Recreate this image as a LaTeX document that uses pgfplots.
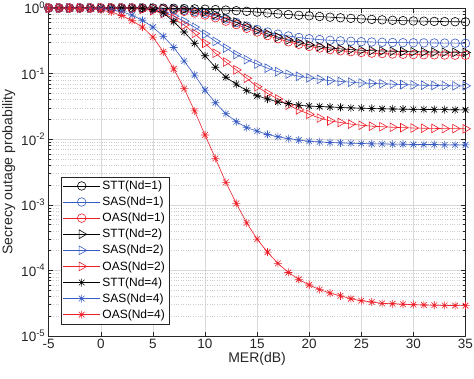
\documentclass[border=0pt]{standalone}
\usepackage{fontspec}
\setmainfont{Liberation Sans}
\usepackage{pgfplots}
\usepackage{pgfplotstable}
\pgfplotsset{compat=1.18}
\definecolor{mblue}{rgb}{0.22,0.36,0.76}
\definecolor{mred}{rgb}{0.93,0.12,0.16}
\definecolor{gridc}{rgb}{0.85,0.85,0.85}
\definecolor{axc}{rgb}{0.15,0.15,0.15}

\pgfdeclareplotmark{mstar}{%
  \pgfpathmoveto{\pgfqpoint{-\pgfplotmarksize}{0pt}}\pgfpathlineto{\pgfqpoint{\pgfplotmarksize}{0pt}}%
  \pgfpathmoveto{\pgfqpoint{0pt}{-\pgfplotmarksize}}\pgfpathlineto{\pgfqpoint{0pt}{\pgfplotmarksize}}%
  \pgfpathmoveto{\pgfqpoint{-0.707\pgfplotmarksize}{-0.707\pgfplotmarksize}}\pgfpathlineto{\pgfqpoint{0.707\pgfplotmarksize}{0.707\pgfplotmarksize}}%
  \pgfpathmoveto{\pgfqpoint{-0.707\pgfplotmarksize}{0.707\pgfplotmarksize}}\pgfpathlineto{\pgfqpoint{0.707\pgfplotmarksize}{-0.707\pgfplotmarksize}}%
  \pgfusepathqstroke}

\pgfplotstableread{
x   stta  sasa  oasa  sttb  sasb  oasb  sttc  sasc  oasc
-5  1     1     1     1     1     1     1     0.999 0.998
-4  1     1     1     1     1     1     1     0.998 0.996
-3  1     1     1     1     1     1     1     0.996 0.99
-2  1     1     1     1     1     1     1     0.99  0.98
-1  1     1     1     1     1     1     1     0.98  0.96
0   1     1     1     1     1     1     1     0.965 0.93
1   1     1     1     1     1     1     1     0.94  0.87
2   1     1     1     1     0.995 0.995 1     0.88  0.77
3   1     1     1     1     0.99  0.985 1     0.78  0.64
4   1     1     0.99  1     0.97  0.96  0.99  0.65  0.51
5   1     0.99  0.98  0.995 0.93  0.91  0.95  0.51  0.36
6   0.995 0.97  0.96  0.99  0.85  0.82  0.84  0.37  0.215
7   0.99  0.95  0.93  0.975 0.75  0.69  0.62  0.25  0.118
8   0.98  0.92  0.89  0.955 0.63  0.55  0.43  0.155 0.059
9   0.97  0.88  0.84  0.92  0.51  0.41  0.29  0.095 0.027
10  0.96  0.83  0.78  0.87  0.40  0.29  0.187 0.056 0.0116
11  0.945 0.76  0.71  0.79  0.31  0.205 0.125 0.036 0.0051
12  0.93  0.68  0.63  0.70  0.245 0.15  0.088 0.0245 0.0022
13  0.91  0.60  0.56  0.61  0.195 0.114 0.069 0.0185 0.00105
14  0.89  0.53  0.49  0.53  0.163 0.085 0.055 0.015 0.00053
15  0.865 0.47  0.43  0.46  0.14  0.063 0.046 0.0133 0.00030
16  0.84  0.43  0.38  0.405 0.121 0.05  0.041 0.0118 0.00019
17  0.815 0.40  0.34  0.36  0.107 0.041 0.037 0.0109 0.000128
18  0.795 0.375 0.305 0.325 0.098 0.033 0.035 0.0102 0.000093
19  0.775 0.355 0.28  0.297 0.091 0.028 0.033 0.0097 0.000073
20  0.76  0.34  0.26  0.275 0.086 0.024 0.032 0.0093 0.000060
21  0.742 0.33  0.245 0.258 0.082 0.021 0.0315 0.0091 0.000051
22  0.725 0.322 0.232 0.246 0.078 0.019 0.031 0.0089 0.000045
23  0.71  0.316 0.223 0.238 0.076 0.018 0.0305 0.0088 0.000041
24  0.695 0.311 0.216 0.232 0.074 0.017 0.030 0.0087 0.000037
25  0.682 0.307 0.21  0.227 0.072 0.0163 0.0297 0.0086 0.0000345
26  0.67  0.303 0.205 0.224 0.071 0.0158 0.0294 0.0085 0.000033
27  0.66  0.300 0.202 0.221 0.070 0.0155 0.0291 0.0085 0.0000315
28  0.65  0.298 0.199 0.219 0.069 0.0152 0.0289 0.0084 0.000031
29  0.642 0.296 0.197 0.217 0.068 0.015 0.0287 0.0084 0.0000305
30  0.635 0.295 0.195 0.215 0.067 0.0148 0.0285 0.0083 0.000030
31  0.63  0.294 0.194 0.214 0.0665 0.0147 0.0284 0.0083 0.0000297
32  0.625 0.293 0.193 0.213 0.066 0.0146 0.0283 0.0083 0.0000295
33  0.621 0.292 0.192 0.212 0.0655 0.0145 0.0282 0.0082 0.0000293
34  0.618 0.291 0.191 0.211 0.065 0.0145 0.0281 0.0082 0.0000291
35  0.615 0.29  0.19  0.21  0.065 0.0144 0.028 0.0082 0.000029
}\datatab

\begin{document}
\begin{tikzpicture}
\begin{axis}[
  at={(48.7pt,42pt)}, anchor=south west,
  scale only axis, width=416.8pt, height=328pt,
  ymode=log, xmin=-5, xmax=35, ymin=1e-5, ymax=1,
  xtick={-5,0,5,10,15,20,25,30,35},
  xticklabels={-5,0,5,10,15,20,25,30,35},
  ytick={1e-5,1e-4,1e-3,1e-2,1e-1,1},
  yticklabels={10\textsuperscript{-5},10\textsuperscript{-4},10\textsuperscript{-3},10\textsuperscript{-2},10\textsuperscript{-1},10\textsuperscript{0}},
  minor ytick={2e-5,3e-5,4e-5,5e-5,6e-5,7e-5,8e-5,9e-5,
               2e-4,3e-4,4e-4,5e-4,6e-4,7e-4,8e-4,9e-4,
               2e-3,3e-3,4e-3,5e-3,6e-3,7e-3,8e-3,9e-3,
               2e-2,3e-2,4e-2,5e-2,6e-2,7e-2,8e-2,9e-2,
               0.2,0.3,0.4,0.5,0.6,0.7,0.8,0.9},
  minor x tick num=0,
  grid=both,
  major grid style={gridc, line width=0.5pt},
  minor grid style={gray!40, dotted, line width=0.5pt},
  tick align=inside,
  major tick length=4.5pt, minor tick length=2.5pt,
  tick style={axc, line width=0.5pt},
  axis line style={axc, line width=0.6pt},
  ticklabel style={font=\fontsize{13.5}{15}\selectfont, text=axc},
  label style={font=\fontsize{14}{16}\selectfont, text=axc},
  xlabel={MER(dB)}, ylabel={Secrecy outage probability},
  xlabel style={yshift=4pt},
  ylabel style={yshift=-1pt},
  clip=false,
  every axis plot/.append style={line width=0.6pt},
  legend style={at={(0.0288,0.0366)}, anchor=south west,
    font=\fontsize{12}{14}\selectfont, draw=axc, fill=white,
    inner sep=2pt, row sep=1.9pt, cells={anchor=west}},
  legend image code/.code={\draw[mark repeat=2,mark phase=2] plot coordinates {(0cm,0cm) (0.65cm,0cm) (1.3cm,0cm)};},
]
\addplot[black, mark=o, mark size=4.3pt] table[x=x,y=stta] {\datatab};
\addlegendentry{STT(Nd=1)}
\addplot[mblue, mark=o, mark size=4.3pt] table[x=x,y=sasa] {\datatab};
\addlegendentry{SAS(Nd=1)}
\addplot[mred, mark=o, mark size=4.3pt] table[x=x,y=oasa] {\datatab};
\addlegendentry{OAS(Nd=1)}
\addplot[black, mark=triangle, mark size=5pt, mark options={rotate=-90}] table[x=x,y=sttb] {\datatab};
\addlegendentry{STT(Nd=2)}
\addplot[mblue, mark=triangle, mark size=5pt, mark options={rotate=-90}] table[x=x,y=sasb] {\datatab};
\addlegendentry{SAS(Nd=2)}
\addplot[mred, mark=triangle, mark size=5pt, mark options={rotate=-90}] table[x=x,y=oasb] {\datatab};
\addlegendentry{OAS(Nd=2)}
\addplot[black, mark=mstar, mark size=4pt] table[x=x,y=sttc] {\datatab};
\addlegendentry{STT(Nd=4)}
\addplot[mblue, mark=mstar, mark size=4pt] table[x=x,y=sasc] {\datatab};
\addlegendentry{SAS(Nd=4)}
\addplot[mred, mark=mstar, mark size=4pt] table[x=x,y=oasc] {\datatab};
\addlegendentry{OAS(Nd=4)}
\end{axis}
\pgfresetboundingbox
\useasboundingbox (0,0) rectangle (474pt,378pt);
\end{tikzpicture}
\end{document}
